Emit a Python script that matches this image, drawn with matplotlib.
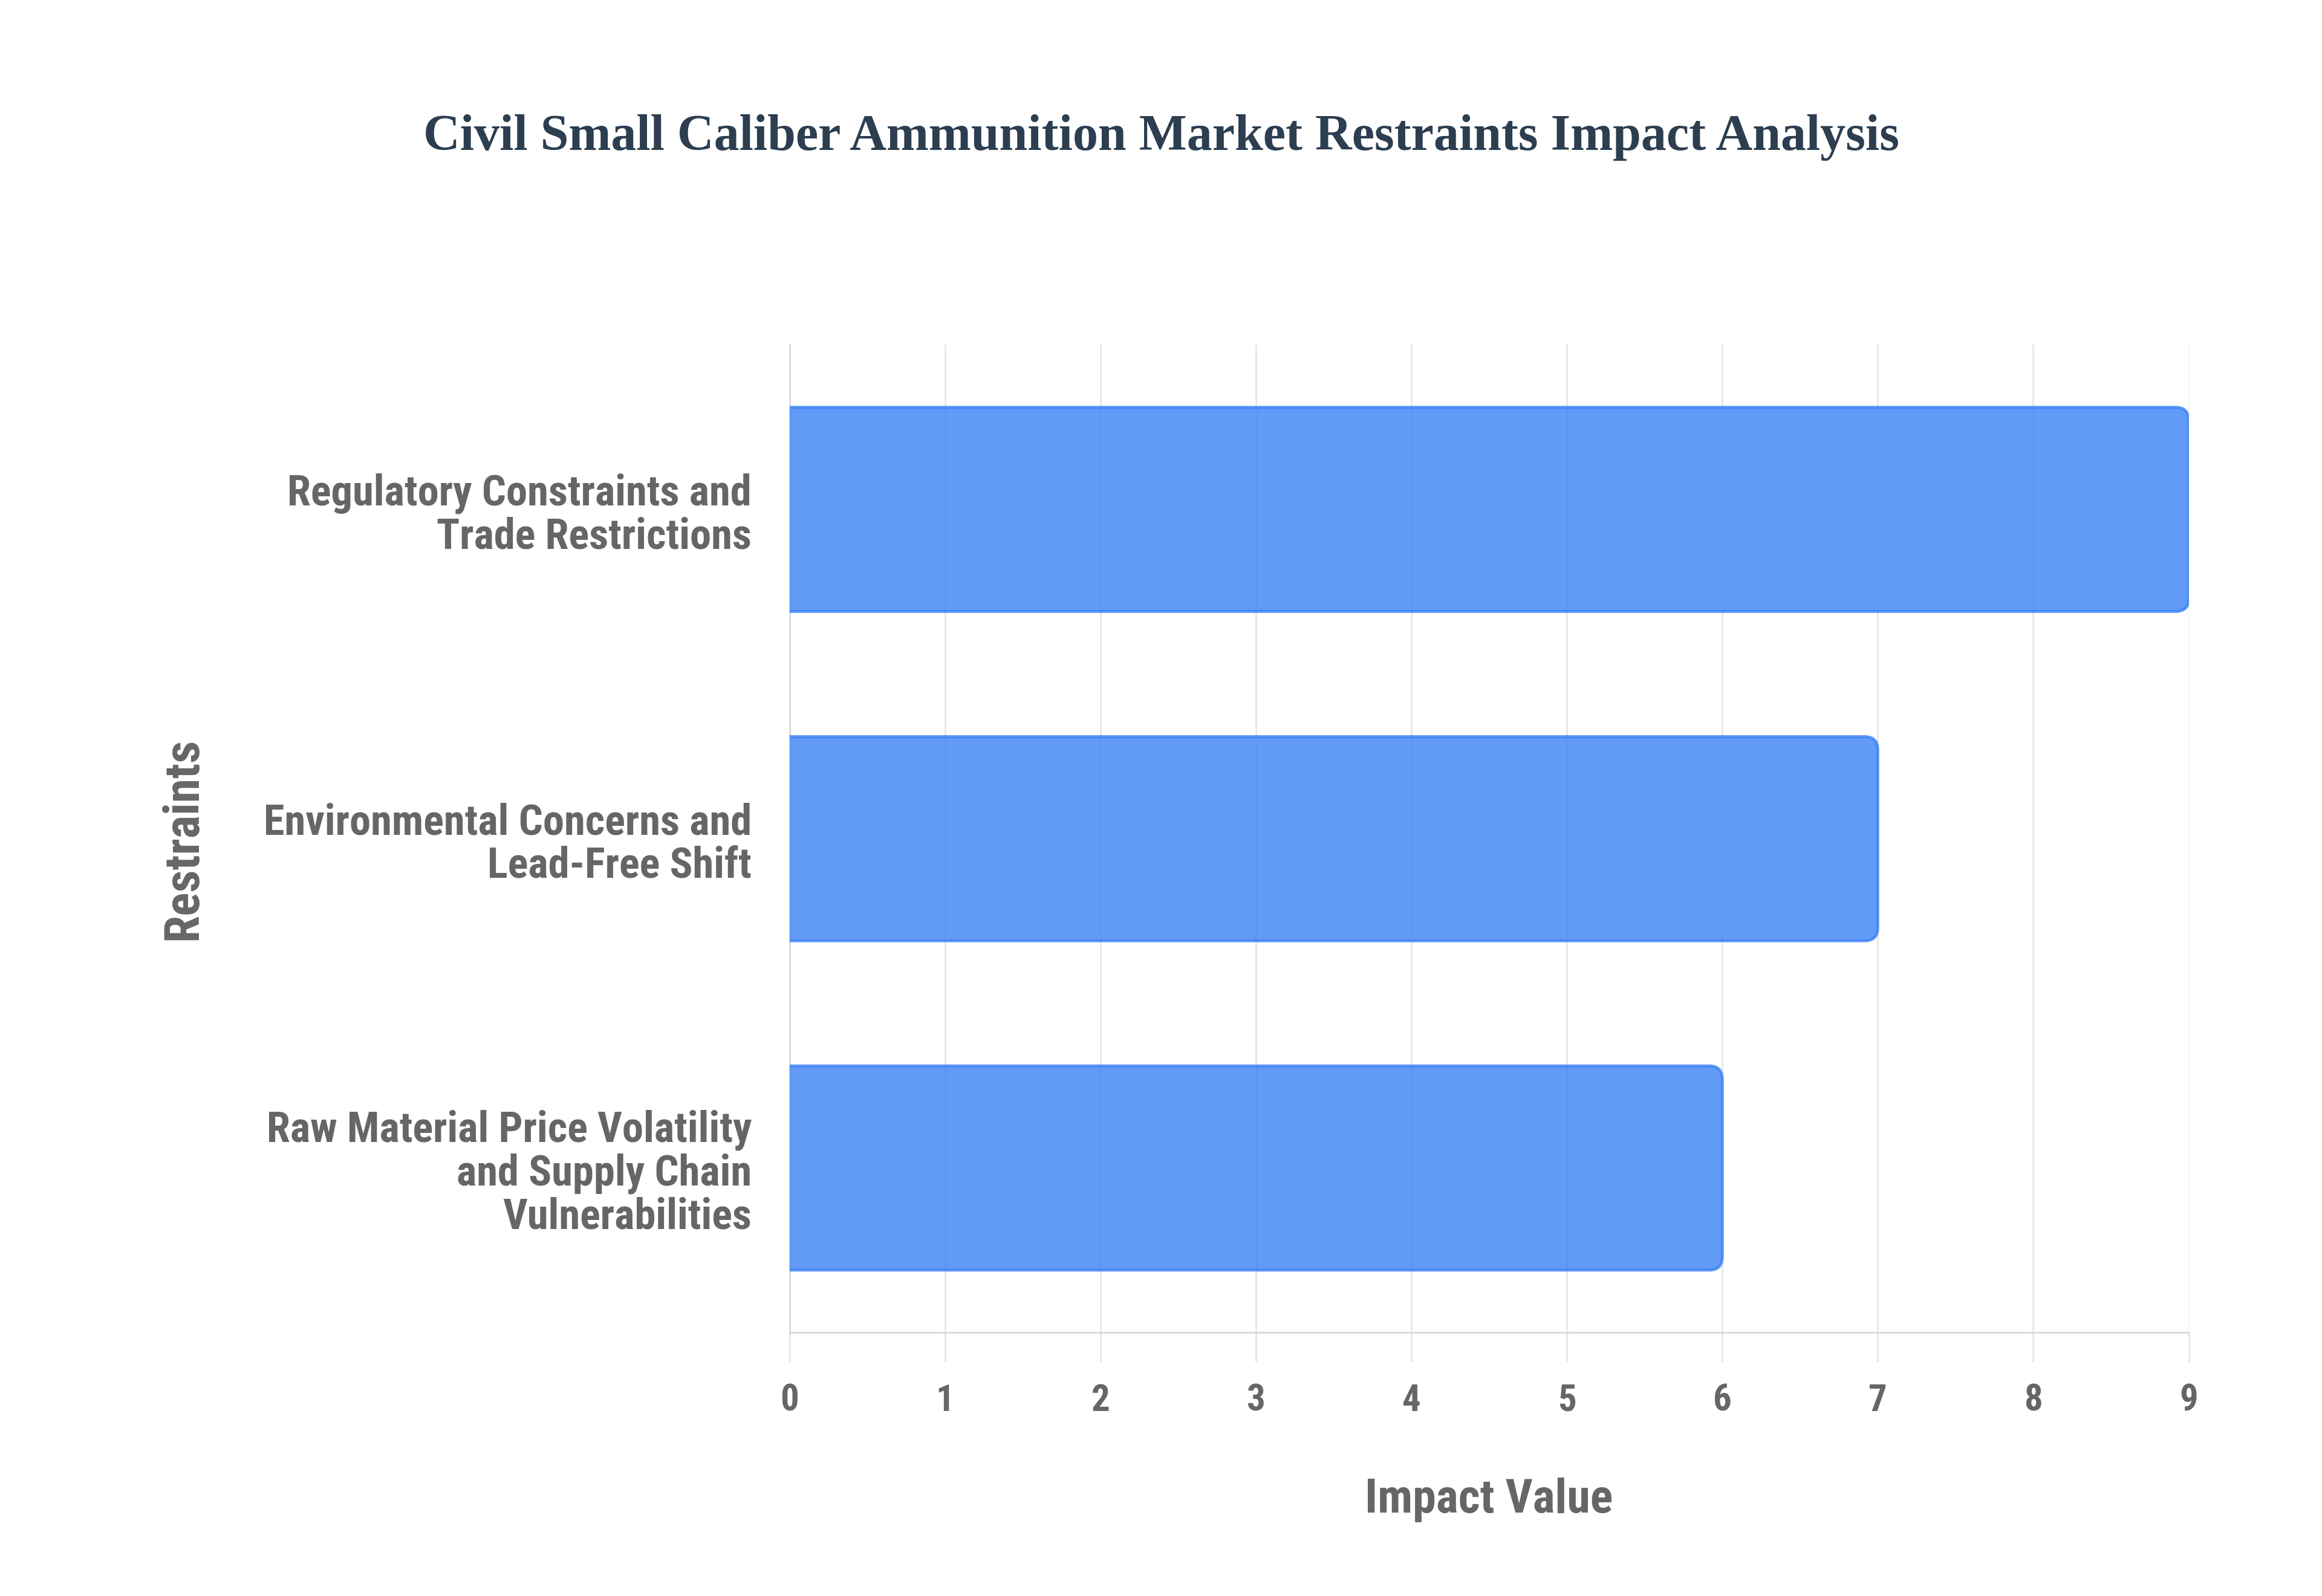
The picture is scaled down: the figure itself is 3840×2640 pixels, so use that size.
import numpy as np
import matplotlib.pyplot as plt
from matplotlib.patches import FancyBboxPatch

# datos (de cima para baixo no grafico)
restricoes = ["Regulatory Constraints and\nTrade Restrictions",
              "Environmental Concerns and\nLead-Free Shift",
              "Raw Material Price Volatility\nand Supply Chain\nVulnerabilities"]
impacto = [9, 7, 6]
ticks_x = list(range(0, 10))

CorBarra = "#3B82F6"
CorTexto = "#666666"
CorGrelha = "#e6e6e6"
FonteSans = ["Roboto Condensed", "Liberation Sans", "DejaVu Sans"]

fig = plt.figure(figsize=(15.36, 10.56), dpi=250)
ax = fig.add_axes([0.340, 0.165, 0.6026, 0.619])

pos_y = np.arange(len(restricoes))[::-1]
barras = ax.barh(pos_y, impacto, height=0.62)

ax.set_xlim(0, 9)
ax.set_ylim(-0.5, len(restricoes) - 0.5)

# trocar as barras por caixas com cantos arredondados a direita
p0 = ax.transData.transform((0, 0))
p1 = ax.transData.transform((1, 1))
aspecto = (p1[0] - p0[0]) / (p1[1] - p0[1])
for b in barras:
    x, y, w, h = b.get_x(), b.get_y(), b.get_width(), b.get_height()
    b.remove()
    caixa = FancyBboxPatch((x - 0.3, y), w + 0.3, h,
                           boxstyle="round,pad=0,rounding_size=0.085",
                           mutation_aspect=aspecto,
                           facecolor=CorBarra, alpha=0.8,
                           edgecolor=CorBarra, linewidth=1.4, zorder=3)
    ax.add_patch(caixa)
    caixa.set_clip_on(True)

ax.set_xticks(ticks_x)
ax.set_xticklabels([str(t) for t in ticks_x], family=FonteSans,
                   fontweight="bold", fontsize=17.5, color=CorTexto)
ax.set_yticks(pos_y)
ax.set_yticklabels(restricoes, family=FonteSans, fontweight="bold",
                   fontsize=20.3, color=CorTexto, linespacing=1.08)

ax.grid(axis="x", color=CorGrelha, linewidth=0.8)
ax.grid(axis="y", visible=False)
ax.set_axisbelow(True)
ax.tick_params(axis="x", length=14, width=0.8, color=CorGrelha, pad=10)
ax.tick_params(axis="y", length=0, pad=18)

for lado in ["top", "right"]:
    ax.spines[lado].set_visible(False)
for lado in ["left", "bottom"]:
    ax.spines[lado].set_color("#d9d9d9")
    ax.spines[lado].set_linewidth(0.8)

ax.set_xlabel("Impact Value", family=FonteSans, fontweight="bold",
              fontsize=22.5, color=CorTexto, va="center")
ax.xaxis.set_label_coords(0.5, -0.169)
ax.set_ylabel("Restraints", family=FonteSans, fontweight="bold",
              fontsize=23.5, color=CorTexto, va="center")
ax.yaxis.set_label_coords(-0.433, 0.5)

fig.text(0.5, 0.914, "Civil Small Caliber Ammunition Market Restraints Impact Analysis",
         ha="center", va="center", family=["Liberation Serif", "DejaVu Serif"],
         fontweight="bold", fontsize=24.2, color="#2C3E50")

fig.savefig("out.png", dpi=250, facecolor="white")
